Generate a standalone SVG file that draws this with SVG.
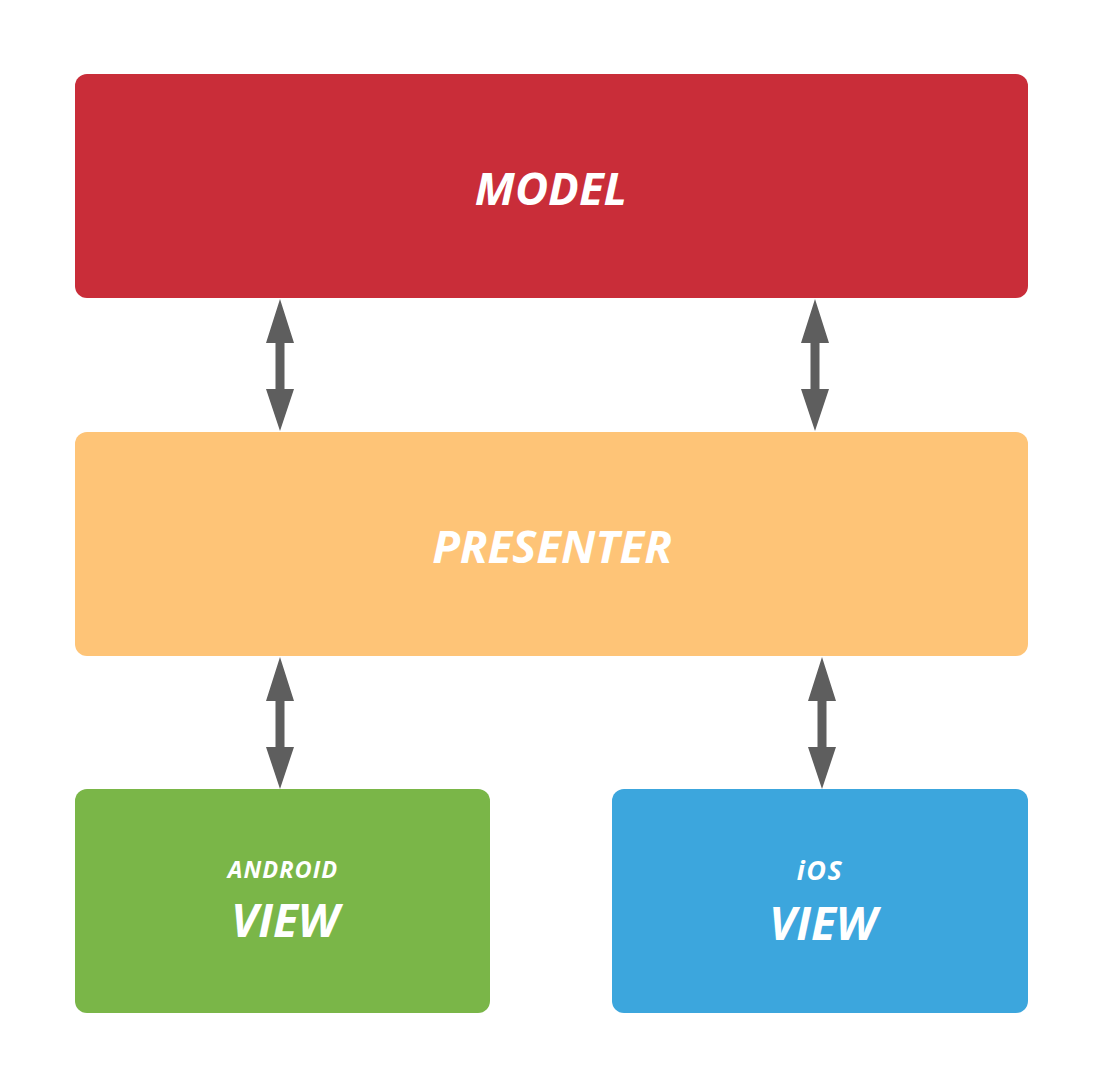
<svg xmlns="http://www.w3.org/2000/svg" width="1103" height="1089" viewBox="0 0 1103 1089">
<style>
.t{font-family:"Open Sans","Liberation Sans",sans-serif;font-weight:bold;font-style:italic;fill:#ffffff;text-anchor:middle}
.a{fill:#5e5e5e}
</style>
<defs>
<path id="arr" d="M0,0 L14,44 L4.5,44 L4.5,90 L14,90 L0,132 L-14,90 L-4.5,90 L-4.5,44 L-14,44 Z"/>
</defs>
<rect width="1103" height="1089" fill="#ffffff"/>
<g id="model"><rect x="75" y="74" width="953" height="224" rx="12" fill="#c92d39"/><text class="t" x="551" y="205" font-size="45.5">MODEL</text></g>
<g id="presenter"><rect x="75" y="432" width="953" height="224" rx="12" fill="#fec477"/><text class="t" x="552" y="563" font-size="45.5">PRESENTER</text></g>
<g id="android"><rect x="75" y="789" width="415" height="224" rx="12" fill="#7ab648"/><text class="t" x="283" y="878" font-size="23.5" letter-spacing="1">ANDROID</text><text class="t" x="285" y="937" font-size="46">VIEW</text></g>
<g id="ios"><rect x="612" y="789" width="416" height="224" rx="12" fill="#3ca6dd"/><text class="t" x="820" y="880" font-size="27" letter-spacing="1.5">iOS</text><text class="t" x="823" y="940" font-size="46">VIEW</text></g>
<g id="connectors">
<use href="#arr" class="a" x="280" y="299"/>
<use href="#arr" class="a" x="815" y="299"/>
<use href="#arr" class="a" x="280" y="657"/>
<use href="#arr" class="a" x="822" y="657"/>
</g>
</svg>
